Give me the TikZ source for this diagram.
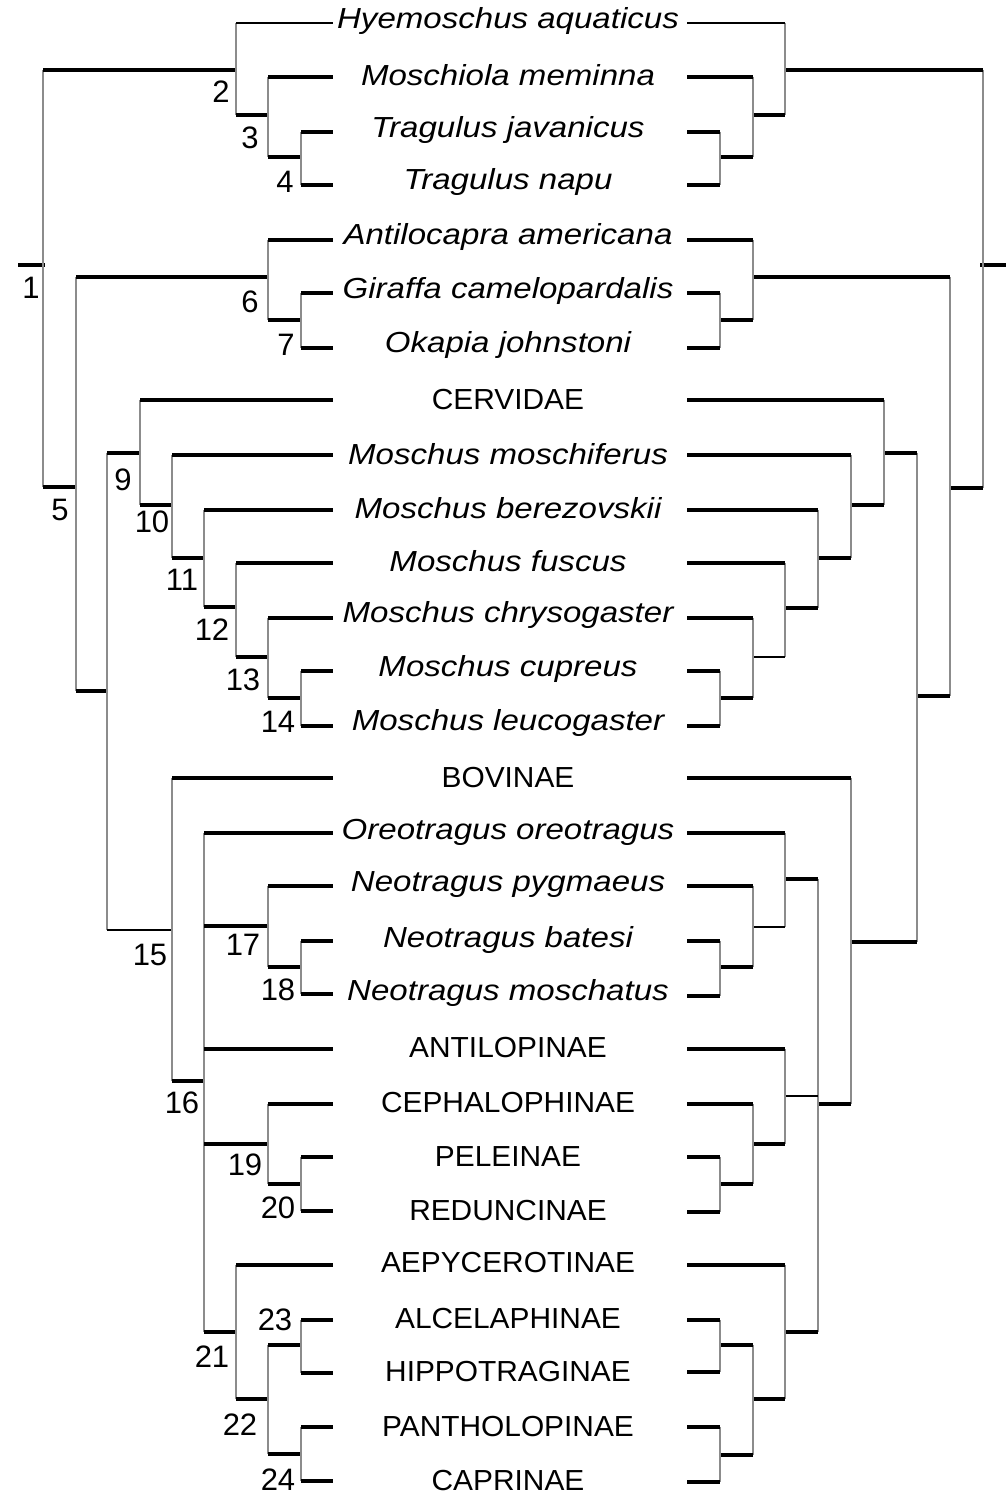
\documentclass[tikz,border=0pt]{standalone}
\usepackage{fontspec}
\setmainfont{Liberation Sans}
\begin{document}
\begin{tikzpicture}[x=1pt,y=-1pt,
  hb/.style={line width=3.4pt,black},
  hthin/.style={line width=1.6pt,black},
  vg/.style={line width=1.6pt,black!45},
  leaf/.style={font=\fontsize{29}{30}\selectfont\itshape,inner sep=0},
  grp/.style={font=\fontsize{29}{30}\selectfont,inner sep=0},
  num/.style={font=\fontsize{31}{32}\selectfont,inner sep=0}]
\useasboundingbox (0,0) rectangle (1006,1501);
\newcommand{\hh}[3]{\draw[hb] (#2,#1) -- (#3,#1);}
\newcommand{\hthn}[3]{\draw[hthin] (#2,#1) -- (#3,#1);}
\newcommand{\vv}[3]{\draw[vg] (#1,#2) -- (#1,#3);}
% labels
\foreach \y/\t/\s/\k [count=\i] in {
 21/Hyemoschus aquaticus/leaf/1.14, 75/Moschiola meminna/leaf/1.14, 130/Tragulus javanicus/leaf/1.14, 182/Tragulus napu/leaf/1.14,
 237/Antilocapra americana/leaf/1.14, 291/Giraffa camelopardalis/leaf/1.14, 345/Okapia johnstoni/leaf/1.14,
 400/CERVIDAE/grp/1.03, 454/Moschus moschiferus/leaf/1.14, 508/Moschus berezovskii/leaf/1.14, 561/Moschus fuscus/leaf/1.14,
 615/Moschus chrysogaster/leaf/1.14, 669/Moschus cupreus/leaf/1.14, 723/Moschus leucogaster/leaf/1.14,
 778/BOVINAE/grp/1.03, 832/Oreotragus oreotragus/leaf/1.14, 885/Neotragus pygmaeus/leaf/1.14, 940/Neotragus batesi/leaf/1.14,
 993/Neotragus moschatus/leaf/1.14, 1048/ANTILOPINAE/grp/1.03, 1103/CEPHALOPHINAE/grp/1.03, 1157/PELEINAE/grp/1.03,
 1211/REDUNCINAE/grp/1.03, 1263/AEPYCEROTINAE/grp/1.03, 1318/ALCELAPHINAE/grp/1.03, 1371/HIPPOTRAGINAE/grp/1.03,
 1426/PANTHOLOPINAE/grp/1.03, 1480/CAPRINAE/grp/1.03}
 \node[\s] (t\i) at (508,\y) {\scalebox{\k}[1]{\t}};
% node numbers
\foreach \x/\y/\t in {31/288/1,221/92/2,250/138/3,285/182/4,60/510/5,250/302/6,286/345/7,123/480/9,
 152/522/10,182/580/11,212/630/12,243/680/13,278/722/14,150/955/15,182/1103/16,243/945/17,278/990/18,
 245/1165/19,278/1208/20,212/1357/21,240/1425/22,275/1320/23,278/1480/24}
 \node[num] (n\t) at (\x,\y) {\t};
% ---------- left tree ----------
\hh{265}{18}{45}
\vv{43}{70}{487} \hh{70}{43}{236} \hh{487}{43}{76}
\vv{236}{23}{115} \hthn{23}{236}{333} \hh{115}{236}{268}
\vv{268}{77}{157} \hh{77}{268}{333} \hh{157}{268}{301}
\vv{301}{132}{185} \hh{132}{301}{333} \hh{185}{301}{333}
\vv{76}{277}{691} \hh{277}{76}{268} \hh{691}{76}{107}
\vv{268}{240}{320} \hh{240}{268}{333} \hh{320}{268}{301}
\vv{301}{293}{348} \hh{293}{301}{333} \hh{348}{301}{333}
\vv{107}{453}{930} \hh{453}{107}{140} \hthn{930}{107}{172}
\vv{140}{400}{505} \hh{400}{140}{333} \hh{505}{140}{172}
\vv{172}{455}{558} \hh{455}{172}{333} \hh{558}{172}{204}
\vv{204}{510}{607} \hh{510}{204}{333} \hh{607}{204}{236}
\vv{236}{563}{657} \hh{563}{236}{333} \hh{657}{236}{268}
\vv{268}{618}{698} \hh{618}{268}{333} \hh{698}{268}{301}
\vv{301}{671}{726} \hh{671}{301}{333} \hh{726}{301}{333}
\vv{172}{778}{1081} \hh{778}{172}{333} \hh{1081}{172}{204}
\vv{204}{833}{1332} \hh{833}{204}{333} \hh{926}{204}{268} \hh{1049}{204}{333} \hh{1144}{204}{268} \hh{1332}{204}{236}
\vv{268}{886}{967} \hh{886}{268}{333} \hh{967}{268}{301}
\vv{301}{941}{994} \hh{941}{301}{333} \hh{994}{301}{333}
\vv{268}{1104}{1184} \hh{1104}{268}{333} \hh{1184}{268}{301}
\vv{301}{1157}{1211} \hh{1157}{301}{333} \hh{1211}{301}{333}
\vv{236}{1265}{1399} \hh{1265}{236}{333} \hh{1399}{236}{268}
\vv{268}{1345}{1454} \hh{1345}{268}{301} \hh{1454}{268}{301}
\vv{301}{1320}{1373} \hh{1320}{301}{333} \hh{1373}{301}{333}
\vv{301}{1427}{1481} \hh{1427}{301}{333} \hh{1481}{301}{333}
% ---------- right tree ----------
\hh{265}{980}{1006}
\vv{983}{70}{488} \hh{70}{785}{983} \hh{488}{950}{983}
\vv{785}{23}{115} \hthn{23}{687}{785} \hh{115}{753}{785}
\vv{753}{77}{157} \hh{77}{687}{753} \hh{157}{720}{753}
\vv{720}{132}{185} \hh{132}{687}{720} \hh{185}{687}{720}
\vv{950}{277}{696} \hh{277}{753}{950} \hh{696}{917}{950}
\vv{753}{240}{320} \hh{240}{687}{753} \hh{320}{720}{753}
\vv{720}{293}{348} \hh{293}{687}{720} \hh{348}{687}{720}
\vv{917}{453}{942} \hh{453}{884}{917} \hh{942}{851}{917}
\vv{884}{400}{505} \hh{400}{687}{884} \hh{505}{851}{884}
\vv{851}{455}{558} \hh{455}{687}{851} \hh{558}{818}{851}
\vv{818}{510}{608} \hh{510}{687}{818} \hh{608}{785}{818}
\vv{785}{563}{657} \hh{563}{687}{785} \hthn{657}{753}{785}
\vv{753}{618}{698} \hh{618}{687}{753} \hh{698}{720}{753}
\vv{720}{671}{726} \hh{671}{687}{720} \hh{726}{687}{720}
\vv{851}{778}{1104} \hh{778}{687}{851} \hh{1104}{818}{851}
\vv{818}{879}{1332} \hh{879}{785}{818} \hthn{1096}{785}{818} \hh{1332}{785}{818}
\vv{785}{833}{927} \hh{833}{687}{785} \hthn{927}{753}{785}
\vv{753}{886}{967} \hh{886}{687}{753} \hh{967}{720}{753}
\vv{720}{941}{996} \hh{941}{687}{720} \hh{996}{687}{720}
\vv{785}{1049}{1144} \hh{1049}{687}{785} \hh{1144}{753}{785}
\vv{753}{1104}{1184} \hh{1104}{687}{753} \hh{1184}{720}{753}
\vv{720}{1157}{1212} \hh{1157}{687}{720} \hh{1212}{687}{720}
\vv{785}{1265}{1399} \hh{1265}{687}{785} \hh{1399}{753}{785}
\vv{753}{1345}{1455} \hh{1345}{720}{753} \hh{1455}{720}{753}
\vv{720}{1320}{1372} \hh{1320}{687}{720} \hh{1372}{687}{720}
\vv{720}{1427}{1482} \hh{1427}{687}{720} \hh{1482}{687}{720}
\end{tikzpicture}
\end{document}
